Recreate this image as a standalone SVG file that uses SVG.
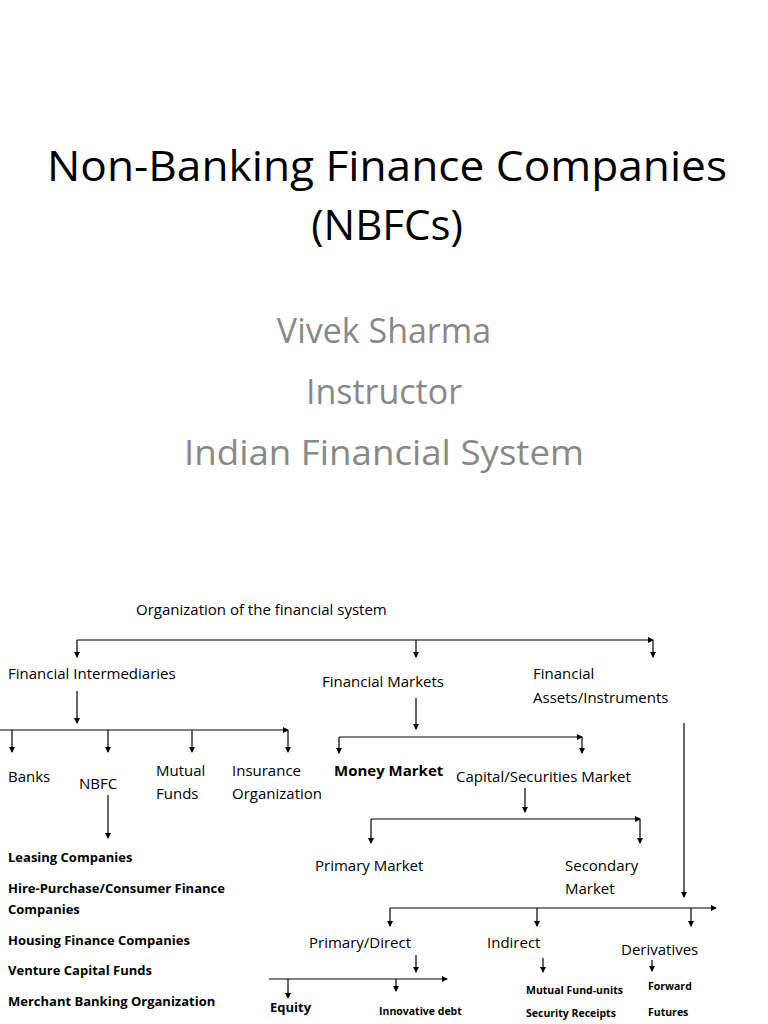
<svg xmlns="http://www.w3.org/2000/svg" width="768" height="1024" viewBox="0 0 768 1024">
<style>
text{font-family:"Open Sans","Liberation Sans",sans-serif;fill:#000}
.t{font-size:42px}
.g{font-size:34px;fill:#888}
.n{font-size:15px}
.b{font-size:13px;font-weight:bold}
.s{font-size:10.5px;font-weight:bold}
line,polyline{stroke:#000;stroke-width:1.2;fill:none}
</style>
<defs><marker id="a" viewBox="0 0 6 6" refX="5" refY="3" markerWidth="6" markerHeight="6" markerUnits="userSpaceOnUse" orient="auto"><path d="M0,0L6,3L0,6z" fill="#000"/></marker></defs>
<rect width="768" height="1024" fill="#fff"/>
<g id="title">
<text class="t" x="387" y="181" text-anchor="middle" textLength="680" lengthAdjust="spacingAndGlyphs">Non-Banking Finance Companies</text>
<text class="t" x="387" y="240" text-anchor="middle">(NBFCs)</text>
<text class="g" x="384" y="343" text-anchor="middle">Vivek Sharma</text>
<text class="g" x="384" y="404" text-anchor="middle">Instructor</text>
<text class="g" x="384" y="465" text-anchor="middle" textLength="400" lengthAdjust="spacingAndGlyphs">Indian Financial System</text>
</g>
<g id="connectors" marker-end="url(#a)">
<polyline points="77,640 77,657" marker-end="url(#a)"/>
<line x1="77" y1="640" x2="653" y2="640"/>
<line x1="416" y1="640" x2="416" y2="657" marker-end="url(#a)"/>
<line x1="653" y1="640" x2="653" y2="657" marker-end="url(#a)"/>
<line x1="77" y1="691" x2="77" y2="723"/>
<line x1="0" y1="730" x2="288" y2="730"/>
<line x1="12" y1="730" x2="12" y2="752" marker-end="url(#a)"/>
<line x1="108" y1="730" x2="108" y2="752" marker-end="url(#a)"/>
<line x1="192" y1="730" x2="192" y2="752" marker-end="url(#a)"/>
<line x1="288" y1="730" x2="288" y2="752" marker-end="url(#a)"/>
<line x1="108" y1="795" x2="108" y2="838" marker-end="url(#a)"/>
<line x1="416" y1="698" x2="416" y2="729" marker-end="url(#a)"/>
<line x1="339" y1="737" x2="582" y2="737"/>
<line x1="339" y1="737" x2="339" y2="753" marker-end="url(#a)"/>
<line x1="582" y1="737" x2="582" y2="753" marker-end="url(#a)"/>
<line x1="525" y1="788" x2="525" y2="812" marker-end="url(#a)"/>
<line x1="371" y1="819" x2="640" y2="819"/>
<line x1="371" y1="819" x2="371" y2="843" marker-end="url(#a)"/>
<line x1="640" y1="819" x2="640" y2="843" marker-end="url(#a)"/>
<line x1="684" y1="723" x2="684" y2="897" marker-end="url(#a)"/>
<line x1="390" y1="908" x2="716" y2="908"/>
<line x1="390" y1="908" x2="390" y2="926" marker-end="url(#a)"/>
<line x1="537" y1="908" x2="537" y2="926" marker-end="url(#a)"/>
<line x1="691" y1="908" x2="691" y2="926" marker-end="url(#a)"/>
<line x1="416" y1="955" x2="416" y2="972" marker-end="url(#a)"/>
<line x1="269" y1="979" x2="447" y2="979"/>
<line x1="288" y1="979" x2="288" y2="998" marker-end="url(#a)"/>
<line x1="396" y1="979" x2="396" y2="991" marker-end="url(#a)"/>
<line x1="543" y1="958" x2="543" y2="972" marker-end="url(#a)"/>
<line x1="652" y1="960" x2="652" y2="971" marker-end="url(#a)"/>
</g>
<g id="root"><text class="n" x="136" y="615">Organization of the financial system</text></g>
<g id="fi"><text class="n" x="8" y="679">Financial Intermediaries</text></g>
<g id="fm"><text class="n" x="322" y="687">Financial Markets</text></g>
<g id="fa"><text class="n" x="533" y="679">Financial</text><text class="n" x="533" y="703">Assets/Instruments</text></g>
<g id="banks"><text class="n" x="8" y="782">Banks</text></g>
<g id="nbfc"><text class="n" x="79" y="789">NBFC</text></g>
<g id="mf"><text class="n" x="156" y="776">Mutual</text><text class="n" x="156" y="799">Funds</text></g>
<g id="ins"><text class="n" x="232" y="776">Insurance</text><text class="n" x="232" y="799">Organization</text></g>
<g id="nbfclist">
<text class="b" x="8" y="862">Leasing Companies</text>
<text class="b" x="8" y="893">Hire-Purchase/Consumer Finance</text>
<text class="b" x="8" y="914">Companies</text>
<text class="b" x="8" y="945">Housing Finance Companies</text>
<text class="b" x="8" y="975">Venture Capital Funds</text>
<text class="b" x="8" y="1006">Merchant Banking Organization</text>
</g>
<g id="mm"><text class="n" x="334" y="776" font-weight="bold">Money Market</text></g>
<g id="cm"><text class="n" x="456" y="782">Capital/Securities Market</text></g>
<g id="pm"><text class="n" x="315" y="871">Primary Market</text></g>
<g id="sm"><text class="n" x="565" y="871">Secondary</text><text class="n" x="565" y="894">Market</text></g>
<g id="pd"><text class="n" x="309" y="948">Primary/Direct</text></g>
<g id="ind"><text class="n" x="487" y="948">Indirect</text></g>
<g id="der"><text class="n" x="621" y="955">Derivatives</text></g>
<g id="eq"><text class="b" x="270" y="1012">Equity</text></g>
<g id="id"><text class="s" x="379" y="1015">Innovative debt</text></g>
<g id="mfu"><text class="s" x="526" y="994">Mutual Fund-units</text><text class="s" x="526" y="1017">Security Receipts</text></g>
<g id="fw"><text class="s" x="648" y="990">Forward</text><text class="s" x="648" y="1016">Futures</text></g>
</svg>
